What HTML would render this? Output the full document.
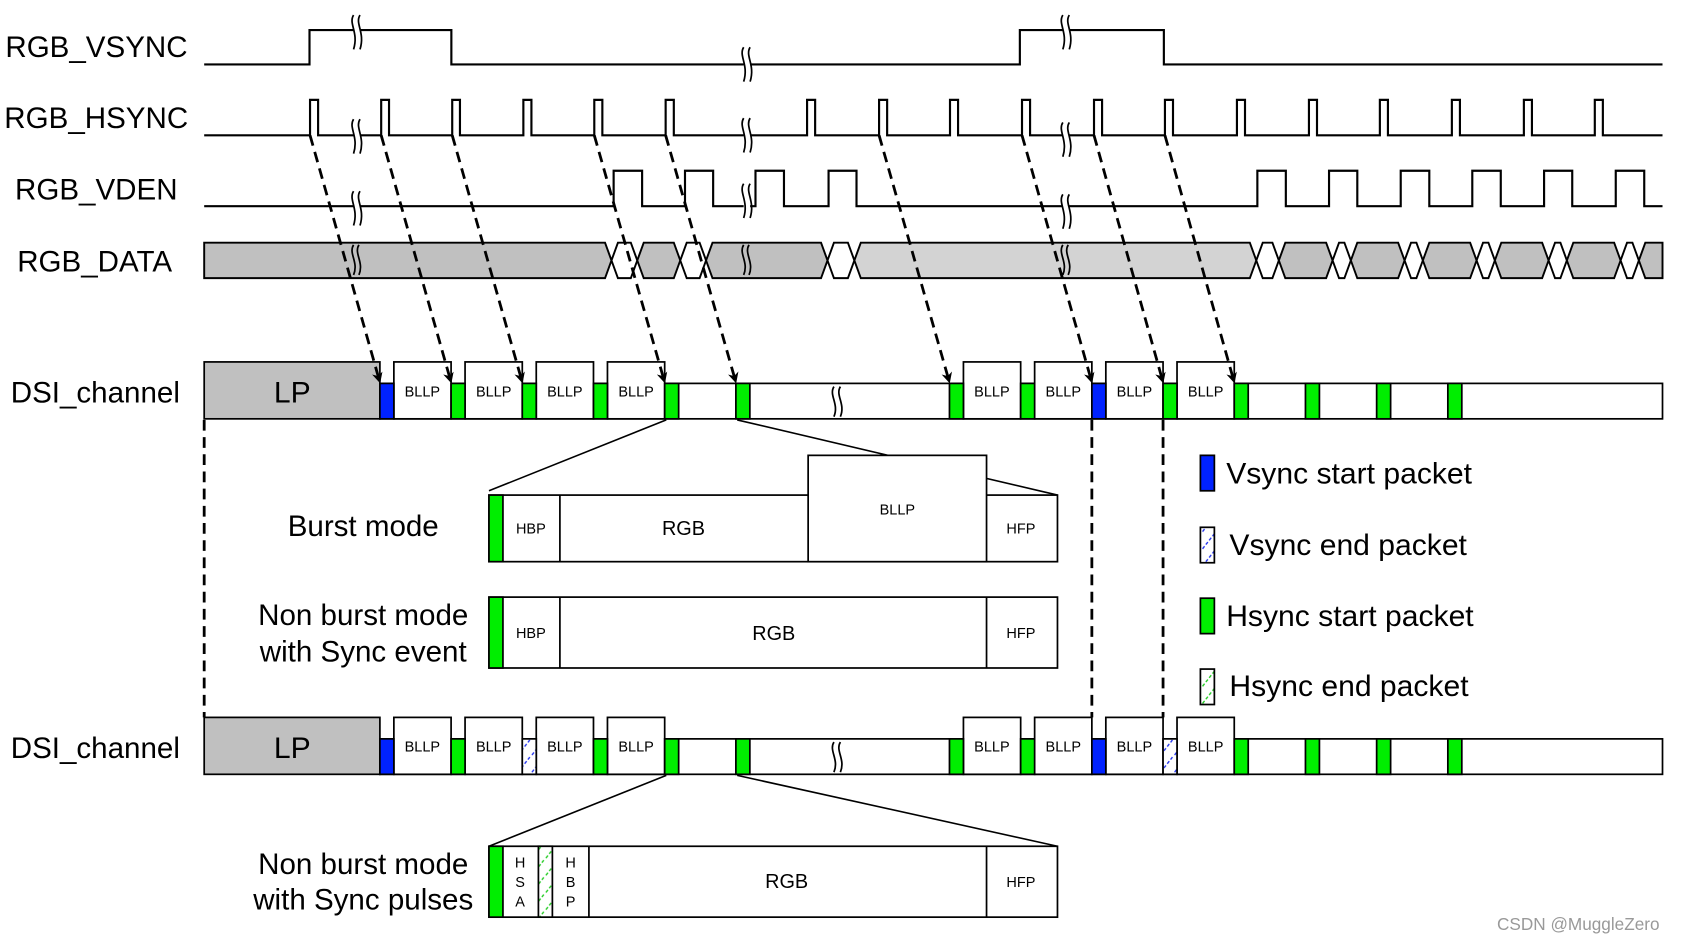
<!DOCTYPE html>
<html><head><meta charset="utf-8"><style>
html,body{margin:0;padding:0;background:#fff;}
svg{display:block;}
text{font-family:"Liberation Sans",Arial,sans-serif;fill:#000;}
</style></head><body>
<svg width="1684" height="944" viewBox="0 0 1567 879" preserveAspectRatio="none" xmlns="http://www.w3.org/2000/svg">
<defs>
<marker id="ah" markerWidth="10" markerHeight="10" refX="9" refY="5" orient="auto" markerUnits="userSpaceOnUse">
<path d="M0,0 L10,5 L0,10 L3,5 Z" fill="#000"/></marker>
<pattern id="hb" patternUnits="userSpaceOnUse" width="13" height="16"><rect width="13" height="16" fill="#fff"/><path d="M1,15 L12,1" stroke="#2233ee" stroke-width="1.3" stroke-dasharray="3 2"/></pattern>
<pattern id="hg" patternUnits="userSpaceOnUse" width="13" height="16"><rect width="13" height="16" fill="#fff"/><path d="M1,15 L12,1" stroke="#22cc22" stroke-width="1.3" stroke-dasharray="3 2"/></pattern>
</defs>
<rect width="1567" height="879" fill="#fff"/>

<g font-size="27.5">
<text x="5" y="53">RGB_VSYNC</text>
<text x="4" y="119">RGB_HSYNC</text>
<text x="14" y="186">RGB_VDEN</text>
<text x="16" y="253">RGB_DATA</text>
<text x="10" y="375">DSI_channel</text>
<text x="10" y="706">DSI_channel</text>
</g>

<g fill="none" stroke="#000" stroke-width="2">
<path d="M190,60 H288 V28 H420 V60 H949 V28 H1083 V60 H1547"/>
<path d="M190,126 H288.5 V93 H296 V126 H354.7 V93 H362 V126 H420.8 V93 H428 V126 H487 V93 H494.5 V126 H553 V93 H560.5 V126 H619.4 V93 H627 V126 H751 V93 H758.5 V126 H818 V93 H825.5 V126 H884 V93 H891.5 V126 H951 V93 H958.5 V126 H1018 V93 H1025.5 V126 H1084 V93 H1091.5 V126 H1151 V93 H1158.5 V126 H1218 V93 H1225.5 V126 H1284 V93 H1291.5 V126 H1351 V93 H1358.5 V126 H1418 V93 H1425.5 V126 H1484 V93 H1491.5 V126 H1547"/>
<path d="M190,192 H571 V159 H597.5 V192 H637.4 V159 H663.6 V192 H703 V159 H729.5 V192 H771 V159 H797 V192 H1170 V159 H1196.5 V192 H1236.7 V159 H1263 V192 H1303.4 V159 H1330 V192 H1370 V159 H1396.5 V192 H1436.8 V159 H1463 V192 H1503.5 V159 H1530 V192 H1547"/>
</g>

<g stroke="#000" stroke-width="1.8">
<polygon points="190,226 563,226 569,242.5 563,259 190,259" fill="#c0c0c0"/>
<polygon points="569,242.5 575,226 587,226 593,242.5 587,259 575,259" fill="#fff"/>
<polygon points="593,242.5 599,226 627,226 633,242.5 627,259 599,259" fill="#c0c0c0"/>
<polygon points="633,242.5 639,226 651,226 657,242.5 651,259 639,259" fill="#fff"/>
<polygon points="657,242.5 663,226 764,226 770,242.5 764,259 663,259" fill="#c0c0c0"/>
<polygon points="770,242.5 776,226 789,226 795,242.5 789,259 776,259" fill="#fff"/>
<polygon points="795,242.5 801,226 1163,226 1169,242.5 1163,259 801,259" fill="#d3d3d3"/>
<polygon points="1169,242.5 1175,226 1184,226 1190,242.5 1184,259 1175,259" fill="#fff"/>
<polygon points="1190,242.5 1196,226 1234,226 1240,242.5 1234,259 1196,259" fill="#c0c0c0"/>
<polygon points="1240,242.5 1246,226 1251,226 1257,242.5 1251,259 1246,259" fill="#fff"/>
<polygon points="1257,242.5 1263,226 1301,226 1307,242.5 1301,259 1263,259" fill="#c0c0c0"/>
<polygon points="1307,242.5 1313,226 1318,226 1324,242.5 1318,259 1313,259" fill="#fff"/>
<polygon points="1324,242.5 1330,226 1368,226 1374,242.5 1368,259 1330,259" fill="#c0c0c0"/>
<polygon points="1374,242.5 1380,226 1385,226 1391,242.5 1385,259 1380,259" fill="#fff"/>
<polygon points="1391,242.5 1397,226 1435,226 1441,242.5 1435,259 1397,259" fill="#c0c0c0"/>
<polygon points="1441,242.5 1447,226 1452,226 1458,242.5 1452,259 1447,259" fill="#fff"/>
<polygon points="1458,242.5 1464,226 1502,226 1508,242.5 1502,259 1464,259" fill="#c0c0c0"/>
<polygon points="1508,242.5 1514,226 1519,226 1525,242.5 1519,259 1514,259" fill="#fff"/>
<polygon points="1525,242.5 1531,226 1547,226 1547,259 1531,259" fill="#c0c0c0"/>
</g>

<g stroke="#000" stroke-width="1.6">
<g transform="translate(330,30)"><rect x="-1" y="-12" width="6" height="24" fill="#fff" stroke="none"/><path d="M-1,-16 c-5,8 5,16 0,32 M5,-16 c-5,8 5,16 0,32" fill="none"/></g>
<g transform="translate(693,60)"><rect x="-1" y="-12" width="6" height="24" fill="#fff" stroke="none"/><path d="M-1,-16 c-5,8 5,16 0,32 M5,-16 c-5,8 5,16 0,32" fill="none"/></g>
<g transform="translate(990,30)"><rect x="-1" y="-12" width="6" height="24" fill="#fff" stroke="none"/><path d="M-1,-16 c-5,8 5,16 0,32 M5,-16 c-5,8 5,16 0,32" fill="none"/></g>
<g transform="translate(330,127)"><rect x="-1" y="-12" width="6" height="24" fill="#fff" stroke="none"/><path d="M-1,-16 c-5,8 5,16 0,32 M5,-16 c-5,8 5,16 0,32" fill="none"/></g>
<g transform="translate(693,126)"><rect x="-1" y="-12" width="6" height="24" fill="#fff" stroke="none"/><path d="M-1,-16 c-5,8 5,16 0,32 M5,-16 c-5,8 5,16 0,32" fill="none"/></g>
<g transform="translate(990,130)"><rect x="-1" y="-12" width="6" height="24" fill="#fff" stroke="none"/><path d="M-1,-16 c-5,8 5,16 0,32 M5,-16 c-5,8 5,16 0,32" fill="none"/></g>
<g transform="translate(330,194)"><rect x="-1" y="-12" width="6" height="24" fill="#fff" stroke="none"/><path d="M-1,-16 c-5,8 5,16 0,32 M5,-16 c-5,8 5,16 0,32" fill="none"/></g>
<g transform="translate(693,187)"><rect x="-1" y="-12" width="6" height="24" fill="#fff" stroke="none"/><path d="M-1,-16 c-5,8 5,16 0,32 M5,-16 c-5,8 5,16 0,32" fill="none"/></g>
<g transform="translate(990,197)"><rect x="-1" y="-12" width="6" height="24" fill="#fff" stroke="none"/><path d="M-1,-16 c-5,8 5,16 0,32 M5,-16 c-5,8 5,16 0,32" fill="none"/></g>
<g transform="translate(330,242)"><path d="M-1,-14 c-5,8 5,16 0,28 M4,-14 c-5,8 5,16 0,28" fill="none"/></g>
<g transform="translate(693,242)"><path d="M-1,-14 c-5,8 5,16 0,28 M4,-14 c-5,8 5,16 0,28" fill="none"/></g>
<g transform="translate(990,242)"><path d="M-1,-14 c-5,8 5,16 0,28 M4,-14 c-5,8 5,16 0,28" fill="none"/></g>
</g>

<g stroke="#000" stroke-width="1.6">
<rect x="190" y="337" width="163.5" height="53" fill="#c0c0c0"/>
<rect x="353.5" y="357" width="1193.5" height="33" fill="#fff"/>
<rect x="366.5" y="337" width="53.25" height="53" fill="#fff"/>
<rect x="432.75" y="337" width="53.25" height="53" fill="#fff"/>
<rect x="499" y="337" width="53.25" height="53" fill="#fff"/>
<rect x="565.25" y="337" width="53.25" height="53" fill="#fff"/>
<rect x="896.5" y="337" width="53.25" height="53" fill="#fff"/>
<rect x="962.75" y="337" width="53.25" height="53" fill="#fff"/>
<rect x="1029" y="337" width="53.25" height="53" fill="#fff"/>
<rect x="1095.25" y="337" width="53.25" height="53" fill="#fff"/>
<rect x="353.5" y="357" width="13" height="33" fill="#0022ff"/>
<rect x="419.75" y="357" width="13" height="33" fill="#00ee00"/>
<rect x="486" y="357" width="13" height="33" fill="#00ee00"/>
<rect x="552.25" y="357" width="13" height="33" fill="#00ee00"/>
<rect x="618.5" y="357" width="13" height="33" fill="#00ee00"/>
<rect x="684.75" y="357" width="13" height="33" fill="#00ee00"/>
<rect x="883.5" y="357" width="13" height="33" fill="#00ee00"/>
<rect x="949.75" y="357" width="13" height="33" fill="#00ee00"/>
<rect x="1016" y="357" width="13" height="33" fill="#0022ff"/>
<rect x="1082.25" y="357" width="13" height="33" fill="#00ee00"/>
<rect x="1148.5" y="357" width="13" height="33" fill="#00ee00"/>
<rect x="1214.75" y="357" width="13" height="33" fill="#00ee00"/>
<rect x="1281" y="357" width="13" height="33" fill="#00ee00"/>
<rect x="1347.25" y="357" width="13" height="33" fill="#00ee00"/>
<path d="M776,360 c-5,8 5,16 0,28 M782,360 c-5,8 5,16 0,28" fill="none"/>
</g>
<g font-size="13.5" text-anchor="middle">
<text x="393" y="369">BLLP</text><text x="459.4" y="369">BLLP</text><text x="525.6" y="369">BLLP</text><text x="591.9" y="369">BLLP</text>
<text x="923" y="369">BLLP</text><text x="989.4" y="369">BLLP</text><text x="1055.6" y="369">BLLP</text><text x="1121.9" y="369">BLLP</text>
</g>
<text x="272" y="375" font-size="28" text-anchor="middle">LP</text>

<g stroke="#000" stroke-width="1.6">
<rect x="190" y="668" width="163.5" height="53" fill="#c0c0c0"/>
<rect x="353.5" y="688" width="1193.5" height="33" fill="#fff"/>
<rect x="366.5" y="668" width="53.25" height="53" fill="#fff"/>
<rect x="432.75" y="668" width="53.25" height="53" fill="#fff"/>
<rect x="499" y="668" width="53.25" height="53" fill="#fff"/>
<rect x="565.25" y="668" width="53.25" height="53" fill="#fff"/>
<rect x="896.5" y="668" width="53.25" height="53" fill="#fff"/>
<rect x="962.75" y="668" width="53.25" height="53" fill="#fff"/>
<rect x="1029" y="668" width="53.25" height="53" fill="#fff"/>
<rect x="1095.25" y="668" width="53.25" height="53" fill="#fff"/>
<rect x="353.5" y="688" width="13" height="33" fill="#0022ff"/>
<rect x="419.75" y="688" width="13" height="33" fill="#00ee00"/>
<rect x="486" y="688" width="13" height="33" fill="url(#hb)"/>
<rect x="552.25" y="688" width="13" height="33" fill="#00ee00"/>
<rect x="618.5" y="688" width="13" height="33" fill="#00ee00"/>
<rect x="684.75" y="688" width="13" height="33" fill="#00ee00"/>
<rect x="883.5" y="688" width="13" height="33" fill="#00ee00"/>
<rect x="949.75" y="688" width="13" height="33" fill="#00ee00"/>
<rect x="1016" y="688" width="13" height="33" fill="#0022ff"/>
<rect x="1082.25" y="688" width="13" height="33" fill="url(#hb)"/>
<rect x="1148.5" y="688" width="13" height="33" fill="#00ee00"/>
<rect x="1214.75" y="688" width="13" height="33" fill="#00ee00"/>
<rect x="1281" y="688" width="13" height="33" fill="#00ee00"/>
<rect x="1347.25" y="688" width="13" height="33" fill="#00ee00"/>
<path d="M776,691 c-5,8 5,16 0,28 M782,691 c-5,8 5,16 0,28" fill="none"/>
</g>
<g font-size="13.5" text-anchor="middle">
<text x="393" y="700">BLLP</text><text x="459.4" y="700">BLLP</text><text x="525.6" y="700">BLLP</text><text x="591.9" y="700">BLLP</text>
<text x="923" y="700">BLLP</text><text x="989.4" y="700">BLLP</text><text x="1055.6" y="700">BLLP</text><text x="1121.9" y="700">BLLP</text>
</g>
<text x="272" y="706" font-size="28" text-anchor="middle">LP</text>

<g stroke="#000" stroke-width="2.6" stroke-dasharray="10 6" fill="none" marker-end="url(#ah)">
<line x1="288.5" y1="126" x2="353.5" y2="356"/>
<line x1="354.7" y1="126" x2="419.75" y2="356"/>
<line x1="420.8" y1="126" x2="486" y2="356"/>
<line x1="553" y1="126" x2="618.5" y2="356"/>
<line x1="619.4" y1="126" x2="684.75" y2="356"/>
<line x1="818" y1="126" x2="883.5" y2="356"/>
<line x1="951" y1="126" x2="1016" y2="356"/>
<line x1="1018" y1="126" x2="1082.25" y2="356"/>
<line x1="1084" y1="126" x2="1148.5" y2="356"/>
</g>
<g stroke="#000" stroke-width="2.6" stroke-dasharray="10 6">
<line x1="190" y1="391" x2="190" y2="668"/>
<line x1="1016" y1="391" x2="1016" y2="668"/>
<line x1="1082.25" y1="391" x2="1082.25" y2="668"/>
</g>

<g stroke="#000" stroke-width="1.5">
<line x1="620" y1="391" x2="455" y2="457"/>
<line x1="686" y1="391" x2="984" y2="461"/>
<line x1="620" y1="722" x2="455" y2="788"/>
<line x1="686" y1="722" x2="984" y2="788"/>
</g>

<g stroke="#000" stroke-width="1.6">
<rect x="455" y="461" width="529" height="62" fill="#fff"/>
<rect x="455" y="461" width="13" height="62" fill="#00ee00"/>
<line x1="521" y1="461" x2="521" y2="523"/>
<rect x="752" y="424" width="166" height="99" fill="#fff"/>
</g>
<g text-anchor="middle">
<text x="494" y="497" font-size="13.5">HBP</text>
<text x="636" y="498" font-size="18.5">RGB</text>
<text x="835" y="479" font-size="13.5">BLLP</text>
<text x="950" y="497" font-size="13.5">HFP</text>
<text x="338" y="499" font-size="27.5">Burst mode</text>
</g>

<g stroke="#000" stroke-width="1.6">
<rect x="455" y="556" width="529" height="66" fill="#fff"/>
<rect x="455" y="556" width="13" height="66" fill="#00ee00"/>
<line x1="521" y1="556" x2="521" y2="622"/>
<line x1="918" y1="556" x2="918" y2="622"/>
</g>
<g text-anchor="middle">
<text x="494" y="594" font-size="13.5">HBP</text>
<text x="720" y="596" font-size="18.5">RGB</text>
<text x="950" y="594" font-size="13.5">HFP</text>
<text x="338" y="582" font-size="27.5">Non burst mode</text>
<text x="338" y="616" font-size="27.5">with Sync event</text>
</g>

<g stroke="#000" stroke-width="1.6">
<rect x="455" y="788" width="529" height="66" fill="#fff"/>
<rect x="455" y="788" width="13" height="66" fill="#00ee00"/>
<rect x="501" y="788" width="13" height="66" fill="url(#hg)"/>
<line x1="548" y1="788" x2="548" y2="854"/>
<line x1="918" y1="788" x2="918" y2="854"/>
</g>
<g text-anchor="middle" font-size="13.5">
<text x="484" y="808">H</text><text x="484" y="826">S</text><text x="484" y="844">A</text>
<text x="531" y="808">H</text><text x="531" y="826">B</text><text x="531" y="844">P</text>
<text x="732" y="827" font-size="18.5">RGB</text>
<text x="950" y="826">HFP</text>
<text x="338" y="814" font-size="27.5">Non burst mode</text>
<text x="338" y="847" font-size="27.5">with Sync pulses</text>
</g>

<g stroke="#000" stroke-width="1.6">
<rect x="1117" y="424" width="13" height="33" fill="#0022ff"/>
<rect x="1117" y="491" width="13" height="33" fill="url(#hb)"/>
<rect x="1117" y="557" width="13" height="33" fill="#00ee00"/>
<rect x="1117" y="623" width="13" height="33" fill="url(#hg)"/>
</g>
<g font-size="28">
<text x="1141" y="450">Vsync start packet</text>
<text x="1144" y="517">Vsync end packet</text>
<text x="1141" y="583">Hsync start packet</text>
<text x="1144" y="648">Hsync end packet</text>
</g>
<text x="1393" y="866" font-size="16" style="fill:#999">CSDN @MuggleZero</text>
</svg>
</body></html>
